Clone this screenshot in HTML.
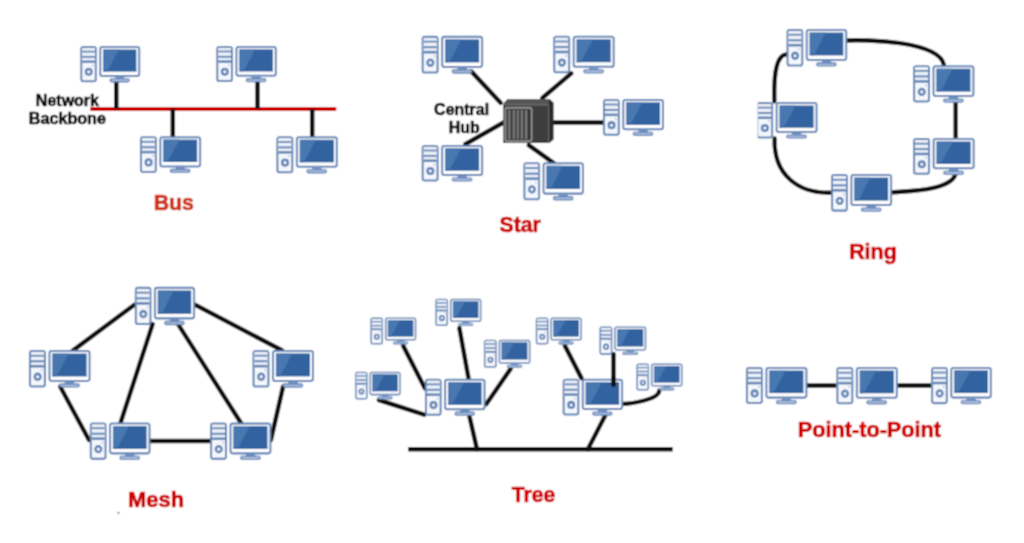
<!DOCTYPE html>
<html><head><meta charset="utf-8"><style>
html,body{margin:0;padding:0;background:#fff;width:1024px;height:543px;overflow:hidden}
svg{display:block} 
text{font-family:"Liberation Sans",sans-serif;font-weight:bold}
</style></head><body><div class="wrap">
<svg width="1024" height="543" viewBox="0 0 1024 543">
<defs>
<symbol id="pc" viewBox="0 0 61 37" overflow="visible">
  <rect x="1" y="1" width="14.8" height="34.6" rx="2" fill="#f4f7fb" stroke="#6083b5" stroke-width="2"/>
  <rect x="2" y="2" width="12.8" height="13" fill="#eef2f8"/>
  <rect x="2" y="4.7" width="12.8" height="1.8" fill="#6083b5"/>
  <rect x="2" y="10" width="12.8" height="2" fill="#6083b5"/>
  <rect x="2" y="14.6" width="12.8" height="2.5" fill="#6083b5"/>
  <circle cx="8.6" cy="26.1" r="2.8" fill="none" stroke="#6083b5" stroke-width="2.5"/>
  <rect x="12" y="18.6" width="1.3" height="2" fill="#6083b5" opacity="0.45"/>
  <rect x="20.3" y="1" width="39.6" height="29.2" rx="2" fill="#fff" stroke="#6083b5" stroke-width="2"/>
  <rect x="23.2" y="3.4" width="33.8" height="22.3" fill="#3364a0"/>
  <polygon points="23.2,3.4 39.2,3.4 27.3,25.7 23.2,25.7" fill="#4a78b1"/>
  <rect x="23.2" y="24.2" width="33.8" height="1.5" fill="#2c5896" opacity="0.6"/>
  <rect x="35.4" y="30.8" width="9.4" height="2.3" fill="#7592c4"/>
  <rect x="30.3" y="33.2" width="19.4" height="2.9" rx="1.45" fill="#b4c5e2" stroke="#6083b5" stroke-width="1.3"/>
</symbol>

<clipPath id="clipL"><rect x="757.7" y="0" width="300" height="543"/></clipPath>
</defs>
<filter id="bl" x="0" y="0" width="1024" height="543" filterUnits="userSpaceOnUse"><feConvolveMatrix order="3" kernelMatrix="1 2 1 2 4 2 1 2 1" edgeMode="duplicate"/></filter>
<rect width="1024" height="543" fill="#fff"/>
<g filter="url(#bl)">
<rect width="1024" height="543" fill="#fff"/>
<line x1="90.3" y1="109.0" x2="336.3" y2="109.0" stroke="#cc0000" stroke-width="3.8" stroke-linecap="butt"/>
<line x1="116.3" y1="80" x2="116.3" y2="108.8" stroke="#0d0d0d" stroke-width="4.5" stroke-linecap="butt"/>
<line x1="257.5" y1="80" x2="257.5" y2="108.8" stroke="#0d0d0d" stroke-width="4.5" stroke-linecap="butt"/>
<line x1="172.8" y1="108.8" x2="172.8" y2="137" stroke="#0d0d0d" stroke-width="4.5" stroke-linecap="butt"/>
<line x1="312.2" y1="108.8" x2="312.2" y2="137" stroke="#0d0d0d" stroke-width="4.5" stroke-linecap="butt"/>
<use href="#pc" x="0" y="0" width="61" height="37" transform="translate(80.278,46.061) scale(0.9840,0.9882)"/>
<use href="#pc" x="0" y="0" width="61" height="37" transform="translate(216.265,45.911) scale(0.9940,0.9888)"/>
<use href="#pc" x="0" y="0" width="61" height="37" transform="translate(139.959,136.166) scale(1.0042,1.0044)"/>
<use href="#pc" x="0" y="0" width="61" height="37" transform="translate(276.362,136.291) scale(1.0092,1.0093)"/>
<text x="35.88" y="105.50" font-size="15.80" fill="#000" stroke="#000" stroke-width="0.6" textLength="63.12" lengthAdjust="spacingAndGlyphs">Network</text>
<text x="28.84" y="123.90" font-size="15.80" fill="#000" stroke="#000" stroke-width="0.6" textLength="77.10" lengthAdjust="spacingAndGlyphs">Backbone</text>
<text x="153.75" y="210.30" font-size="21.50" fill="#cf3218" stroke="#cf3218" stroke-width="0.7" textLength="40.20" lengthAdjust="spacingAndGlyphs">Bus</text>
<line x1="471.3" y1="71.4" x2="500.6" y2="102.8" stroke="#0d0d0d" stroke-width="4.5" stroke-linecap="round"/>
<line x1="571.3" y1="73.4" x2="542.3" y2="98.0" stroke="#0d0d0d" stroke-width="4.5" stroke-linecap="round"/>
<line x1="553.6" y1="122.4" x2="603" y2="122.4" stroke="#0d0d0d" stroke-width="4.5" stroke-linecap="round"/>
<line x1="465.2" y1="144.3" x2="503.5" y2="122.5" stroke="#0d0d0d" stroke-width="4.5" stroke-linecap="round"/>
<line x1="528.7" y1="145.2" x2="553.8" y2="163.2" stroke="#0d0d0d" stroke-width="4.5" stroke-linecap="round"/>
<use href="#pc" x="0" y="0" width="61" height="37" transform="translate(421.662,35.873) scale(1.0092,1.0276)"/>
<use href="#pc" x="0" y="0" width="61" height="37" transform="translate(553.218,35.722) scale(1.0092,1.0282)"/>
<use href="#pc" x="0" y="0" width="61" height="37" transform="translate(602.959,98.893) scale(1.0017,1.0076)"/>
<use href="#pc" x="0" y="0" width="61" height="37" transform="translate(421.656,144.899) scale(1.0092,0.9987)"/>
<use href="#pc" x="0" y="0" width="61" height="37" transform="translate(523.374,162.264) scale(0.9947,1.0392)"/>

<g>
 <polygon points="507.4,99.2 549.8,99.2 553.4,102.8 553.4,139.6 549.6,143 503.2,143 503.2,104" fill="#3e3e3e"/>
 <polygon points="507.4,99.2 549.8,99.2 548.6,104.6 503.2,104.6 503.2,104" fill="#545454"/>
 <polygon points="548.6,104.6 549.8,99.2 553.4,102.8 553.4,139.6 548.6,143" fill="#2c2c2c"/>
 <line x1="503.6" y1="104.9" x2="548.4" y2="104.9" stroke="#7c7c7c" stroke-width="1"/>
 <line x1="548.6" y1="104.9" x2="548.6" y2="142.6" stroke="#6a6a6a" stroke-width="1"/>
 <line x1="503.7" y1="104.9" x2="503.7" y2="142.6" stroke="#5a5a5a" stroke-width="1"/>
 <rect x="505.4" y="107.9" width="26.2" height="33.2" rx="1.6" fill="#303030" stroke="#959595" stroke-width="1.7"/>
 <rect x="508.1" y="110" width="2.5" height="29" fill="#777777"/>
 <rect x="512.6" y="110" width="2.4" height="29" fill="#777777"/>
 <rect x="516.5" y="110" width="2.4" height="29" fill="#777777"/>
 <rect x="520.6" y="110" width="2.6" height="29" fill="#777777"/>
 <rect x="524.9" y="110" width="2.6" height="29" fill="#777777"/>
</g>
<text x="434.12" y="115.00" font-size="16.60" fill="#000" stroke="#000" stroke-width="0.6" textLength="54.95" lengthAdjust="spacingAndGlyphs">Central</text>
<text x="448.71" y="133.20" font-size="16.60" fill="#000" stroke="#000" stroke-width="0.6" textLength="30.98" lengthAdjust="spacingAndGlyphs">Hub</text>
<text x="499.60" y="231.60" font-size="21.50" fill="#d00000" stroke="#d00000" stroke-width="0.7" textLength="41.12" lengthAdjust="spacingAndGlyphs">Star</text>
<path d="M847.3,40.5 C863.1,39.5 939.3,40.6 944.0,65.1" fill="none" stroke="#0d0d0d" stroke-width="4.3" stroke-linecap="round"/>
<path d="M955.6,102 V138.3" fill="none" stroke="#0d0d0d" stroke-width="4.3" stroke-linecap="round"/>
<path d="M892.0,192.4 C906.2,190.9 950.0,191.3 955.7,174.0" fill="none" stroke="#0d0d0d" stroke-width="4.3" stroke-linecap="round"/>
<path d="M774.6,138.5 C773.4,173.8 797.2,193.9 831.5,192.7" fill="none" stroke="#0d0d0d" stroke-width="4.3" stroke-linecap="round"/>
<path d="M774.4,101.5 C774.4,93.0 772.2,55.3 786.5,54.3" fill="none" stroke="#0d0d0d" stroke-width="4.3" stroke-linecap="round"/>
<use href="#pc" x="0" y="0" width="61" height="37" transform="translate(786.525,29.001) scale(0.9965,1.0236)"/>
<use href="#pc" x="0" y="0" width="61" height="37" transform="translate(913.076,65.195) scale(1.0071,1.0219)"/>
<use href="#pc" x="0" y="0" width="61" height="37" transform="translate(913.073,138.044) scale(1.0117,1.0040)"/>
<use href="#pc" x="0" y="0" width="61" height="37" transform="translate(831.073,174.025) scale(1.0023,1.0277)"/>
<g clip-path="url(#clipL)"><use href="#pc" x="0" y="0" width="61" height="37" transform="translate(756.192,102.062) scale(1.0076,0.9934)"/></g>
<text x="849.14" y="259.20" font-size="21.50" fill="#d00000" stroke="#d00000" stroke-width="0.7" textLength="47.60" lengthAdjust="spacingAndGlyphs">Ring</text>
<line x1="134.4" y1="304.8" x2="72.7" y2="350.6" stroke="#0d0d0d" stroke-width="4.5" stroke-linecap="round"/>
<line x1="195.1" y1="304.8" x2="281.9" y2="350.3" stroke="#0d0d0d" stroke-width="4.5" stroke-linecap="round"/>
<line x1="152.6" y1="324.1" x2="120.6" y2="422.6" stroke="#0d0d0d" stroke-width="4.5" stroke-linecap="round"/>
<line x1="178" y1="324.1" x2="241" y2="423" stroke="#0d0d0d" stroke-width="4.5" stroke-linecap="round"/>
<line x1="60.1" y1="386.5" x2="89" y2="440" stroke="#0d0d0d" stroke-width="4.5" stroke-linecap="round"/>
<line x1="150.3" y1="441" x2="210.3" y2="441" stroke="#0d0d0d" stroke-width="4.5" stroke-linecap="round"/>
<line x1="283.1" y1="386.5" x2="270.9" y2="440" stroke="#0d0d0d" stroke-width="4.5" stroke-linecap="round"/>
<use href="#pc" x="0" y="0" width="61" height="37" transform="translate(134.829,286.854) scale(0.9897,1.0433)"/>
<use href="#pc" x="0" y="0" width="61" height="37" transform="translate(28.949,350.032) scale(1.0117,1.0226)"/>
<use href="#pc" x="0" y="0" width="61" height="37" transform="translate(252.514,349.898) scale(1.0091,1.0268)"/>
<use href="#pc" x="0" y="0" width="61" height="37" transform="translate(89.806,422.485) scale(0.9969,1.0224)"/>
<use href="#pc" x="0" y="0" width="61" height="37" transform="translate(210.068,422.589) scale(1.0072,1.0189)"/>
<text x="128.12" y="506.90" font-size="21.50" fill="#d00000" stroke="#d00000" stroke-width="0.7" textLength="55.94" lengthAdjust="spacingAndGlyphs">Mesh</text>
<circle cx="118.5" cy="512.8" r="1.1" fill="#777"/>
<line x1="408.2" y1="449.3" x2="672.7" y2="449.3" stroke="#0d0d0d" stroke-width="4.5" stroke-linecap="butt"/>
<line x1="403.1" y1="345.6" x2="424.9" y2="388.2" stroke="#0d0d0d" stroke-width="4.5" stroke-linecap="round"/>
<line x1="378.8" y1="400" x2="424.2" y2="414.6" stroke="#0d0d0d" stroke-width="4.5" stroke-linecap="round"/>
<line x1="459.4" y1="328.1" x2="468.5" y2="378.2" stroke="#0d0d0d" stroke-width="4.5" stroke-linecap="round"/>
<line x1="510.6" y1="368.9" x2="486.2" y2="404.2" stroke="#0d0d0d" stroke-width="4.5" stroke-linecap="round"/>
<line x1="469.1" y1="414.7" x2="477" y2="449.3" stroke="#0d0d0d" stroke-width="4.5" stroke-linecap="round"/>
<line x1="564.8" y1="345.6" x2="581.5" y2="378.1" stroke="#0d0d0d" stroke-width="4.5" stroke-linecap="round"/>
<line x1="613.5" y1="354.1" x2="613.5" y2="384.8" stroke="#0d0d0d" stroke-width="4.5" stroke-linecap="round"/>
<line x1="605.5" y1="415" x2="587.8" y2="449.3" stroke="#0d0d0d" stroke-width="4.5" stroke-linecap="round"/>
<path d="M623.0,403.8 C629.3,403.9 659.0,400.0 659.3,390.5" fill="none" stroke="#0d0d0d" stroke-width="4.3" stroke-linecap="round"/>
<use href="#pc" x="0" y="0" width="61" height="37" transform="translate(370.329,317.570) scale(0.7545,0.7350)"/>
<use href="#pc" x="0" y="0" width="61" height="37" transform="translate(435.327,298.717) scale(0.7570,0.7437)"/>
<use href="#pc" x="0" y="0" width="61" height="37" transform="translate(483.875,339.690) scale(0.7645,0.7690)"/>
<use href="#pc" x="0" y="0" width="61" height="37" transform="translate(355.033,371.701) scale(0.7500,0.7588)"/>
<use href="#pc" x="0" y="0" width="61" height="37" transform="translate(535.767,317.415) scale(0.7570,0.7401)"/>
<use href="#pc" x="0" y="0" width="61" height="37" transform="translate(599.459,326.376) scale(0.7689,0.7791)"/>
<use href="#pc" x="0" y="0" width="61" height="37" transform="translate(636.321,363.419) scale(0.7594,0.7402)"/>
<use href="#pc" x="0" y="0" width="61" height="37" transform="translate(424.932,378.714) scale(0.9948,1.0096)"/>
<use href="#pc" x="0" y="0" width="61" height="37" transform="translate(562.649,378.718) scale(0.9927,1.0045)"/>
<line x1="613.5" y1="378" x2="613.5" y2="384.8" stroke="#0d0d0d" stroke-width="4.5" stroke-linecap="round"/>
<text x="511.83" y="502.00" font-size="21.50" fill="#d00000" stroke="#d00000" stroke-width="0.7" textLength="43.35" lengthAdjust="spacingAndGlyphs">Tree</text>
<line x1="806.8" y1="385.5" x2="836.5" y2="385.5" stroke="#0d0d0d" stroke-width="4.5" stroke-linecap="butt"/>
<line x1="897.3" y1="385.5" x2="931" y2="385.5" stroke="#0d0d0d" stroke-width="4.5" stroke-linecap="butt"/>
<use href="#pc" x="0" y="0" width="61" height="37" transform="translate(745.919,367.039) scale(1.0098,1.0126)"/>
<use href="#pc" x="0" y="0" width="61" height="37" transform="translate(836.362,367.030) scale(1.0091,1.0177)"/>
<use href="#pc" x="0" y="0" width="61" height="37" transform="translate(931.080,366.884) scale(0.9972,1.0177)"/>
<text x="797.76" y="437.40" font-size="21.50" fill="#d00000" stroke="#d00000" stroke-width="0.7" textLength="143.29" lengthAdjust="spacingAndGlyphs">Point-to-Point</text>
</g>
</svg></div>
</body></html>
